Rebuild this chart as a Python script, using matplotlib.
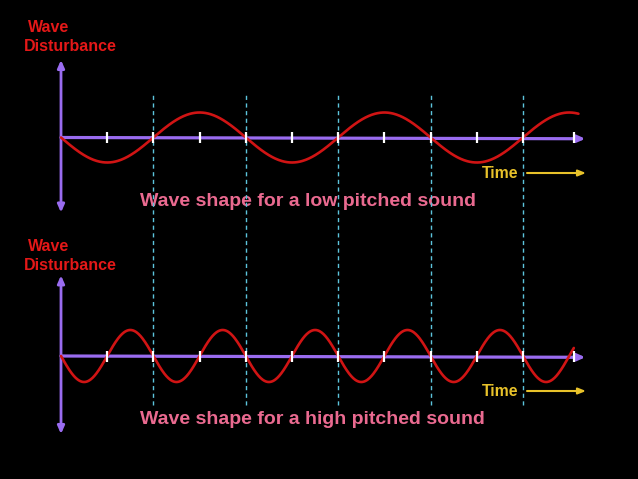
import numpy as np
import matplotlib
matplotlib.use("Agg")
import matplotlib.pyplot as plt

# ---- data (time in tick units, disturbance in amplitude units) ----
tick_times = [1, 2, 3, 4, 5, 6, 7, 8, 9, 10, 11.1]
dash_times = [2, 4, 6, 8, 10]
low_period = 4.0       # ticks per cycle (low pitch)
high_period = 2.0      # ticks per cycle (high pitch)
low_amp = 1.0
high_amp = 1.0
low_end = 11.2
high_end = 11.1
axis_end = 11.35
titles = ["Wave shape for a low pitched sound", "Wave shape for a high pitched sound"]
ylabel_lines = ["Wave", "Disturbance"]
xlabel = "Time"

W, H = 638, 479
fig = plt.figure(figsize=(W / 100, H / 100), dpi=100, facecolor="black")

bg = fig.add_axes([0, 0, 1, 1])
bg.set_xlim(0, W)
bg.set_ylim(H, 0)
bg.axis("off")
bg.set_facecolor("black")

PURPLE = "#9a6cf0"
RED = "#d01414"
DASH = "#5cc4dc"
PINK = "#ea6a90"
YELLOW = "#e8c22a"
TXTRED = "#e41818"

unit_px = 46.2
x0_px = 61


def make_panel(center_px, amp_px):
    left = x0_px / W
    width = unit_px * 12 / W
    top_px = center_px - 3 * amp_px
    bottom_px = center_px + 3 * amp_px
    ax = fig.add_axes([left, 1 - bottom_px / H, width, (bottom_px - top_px) / H])
    ax.set_xlim(0, 12)
    ax.set_ylim(-3, 3)
    ax.axis("off")
    ax.patch.set_alpha(0)
    return ax


def draw_panel(ax, period, amp, t_end, amp_px):
    # vertical axis with arrows at both ends
    ax.annotate("", xy=(0, 3.1), xytext=(0, -3.0), annotation_clip=False,
                arrowprops=dict(arrowstyle="<|-|>,head_length=0.45,head_width=0.2",
                                color=PURPLE, lw=2.0, shrinkA=0, shrinkB=0))
    # horizontal axis with arrow
    ax.annotate("", xy=(axis_end, -0.05), xytext=(0, 0.0), annotation_clip=False,
                arrowprops=dict(arrowstyle="-|>,head_length=0.45,head_width=0.2",
                                color=PURPLE, lw=2.3, shrinkA=0, shrinkB=0))
    t = np.linspace(0, t_end, 800)
    ax.plot(t, -amp * np.sin(2 * np.pi * t / period), color=RED, lw=1.9,
            clip_on=False, zorder=3, solid_capstyle="round")
    tick_h = 5.5 / amp_px
    ax.vlines(tick_times, -tick_h, tick_h, color="white", lw=1.6, zorder=5,
              clip_on=False)


ax1 = make_panel(137.5, 25)
draw_panel(ax1, low_period, low_amp, low_end, 25)
ax2 = make_panel(356, 26)
draw_panel(ax2, high_period, high_amp, high_end, 26)

# dashed guide lines across both panels
y_top = (137.5 - 93) / 25
y_bot = (137.5 - 405) / 25
ax1.vlines(dash_times, y_bot, y_top, color=DASH, lw=1.0, linestyles=(0, (3, 2.5)),
           zorder=4, clip_on=False)

font = dict(family="Liberation Sans", weight="bold")
for yw, yd in [(27, 46), (246, 265)]:
    bg.text(28, yw, ylabel_lines[0], color=TXTRED, fontsize=11.5, va="center", ha="left", **font)
    bg.text(24, yd, ylabel_lines[1], color=TXTRED, fontsize=11.5, va="center", ha="left", **font)

for yt in [173, 391]:
    bg.text(482, yt, xlabel, color=YELLOW, fontsize=11.3, va="center", ha="left", **font)
    bg.annotate("", xy=(586, yt), xytext=(527, yt),
                arrowprops=dict(arrowstyle="-|>,head_length=0.45,head_width=0.18",
                                color=YELLOW, lw=1.5, shrinkA=0, shrinkB=0))

bg.text(140, 202, titles[0], color=PINK, fontsize=14, va="center", ha="left", **font)
bg.text(140, 420, titles[1], color=PINK, fontsize=14, va="center", ha="left", **font)

fig.savefig("out.png", dpi=100, facecolor="black")
